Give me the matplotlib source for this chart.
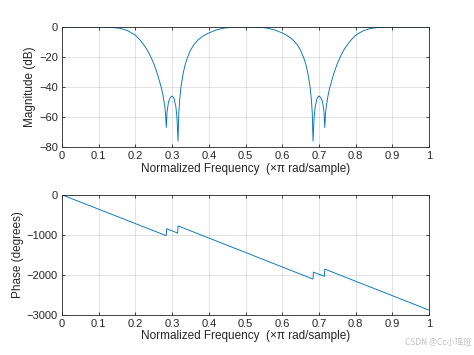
import numpy as np
import matplotlib
matplotlib.use("Agg")
import matplotlib.pyplot as plt

# -----------------------------
# DATA
# -----------------------------
freq_lo = [0.00, 0.05, 0.10, 0.12, 0.14, 0.16, 0.18, 0.20, 0.21, 0.22, 0.23,
           0.24, 0.25, 0.26, 0.27, 0.275, 0.28, 0.282, 0.284, 0.286, 0.29,
           0.295, 0.30, 0.305, 0.31, 0.313, 0.316, 0.318, 0.32, 0.324, 0.33,
           0.335, 0.34, 0.35, 0.36, 0.37, 0.38, 0.39, 0.40, 0.42, 0.44, 0.46,
           0.48, 0.50]
mag_lo = [0, 0, 0, -0.1, -0.4, -1.0, -2.6, -5.5, -8, -11, -14.5,
          -19, -24.5, -31.5, -40, -45.5, -53, -58, -67, -57, -50,
          -47, -46, -47.5, -53, -60, -76, -58, -50, -40, -31,
          -25.5, -21.5, -15.5, -11.5, -8.8, -6.8, -5.2, -4, -2, -0.8, -0.2,
          0, 0]

freq_hi = [0.52, 0.54, 0.56, 0.58, 0.60, 0.61, 0.62, 0.63, 0.64, 0.65, 0.66,
           0.665, 0.67, 0.676, 0.68, 0.682, 0.684, 0.687, 0.69, 0.695, 0.70,
           0.705, 0.71, 0.714, 0.716, 0.718, 0.72, 0.725, 0.73, 0.74, 0.75,
           0.76, 0.77, 0.78, 0.79, 0.80, 0.82, 0.84, 0.86, 0.88, 0.90, 0.95,
           1.00]
mag_hi = [0, -0.2, -0.8, -2, -4, -5.2, -6.8, -8.8, -11.5, -15.5, -21.5,
          -25.5, -31, -40, -50, -58, -76, -60, -53, -47.5, -46,
          -47, -50, -57, -67, -58, -53, -45.5, -40, -31.5, -24.5,
          -19, -14.5, -11, -8, -5.5, -2.6, -1.0, -0.4, -0.1, 0, 0,
          0]

phase_freq = [0.0, 0.284, 0.285, 0.315, 0.316, 0.684, 0.685, 0.715, 0.716, 1.0]
phase_deg = [0, -1020, -845, -955, -775, -2105, -1930, -2035, -1855, -2880]

xticks = np.arange(0, 1.01, 0.1)
xticklabels = ["0", "0.1", "0.2", "0.3", "0.4", "0.5", "0.6", "0.7", "0.8", "0.9", "1"]

# -----------------------------
# STYLE
# -----------------------------
plt.rcParams["font.family"] = ["Liberation Sans", "DejaVu Sans"]
plt.rcParams["font.size"] = 8

LINE_COLOR = (0.0, 0.447, 0.741)
AX_COLOR = (0.15, 0.15, 0.15)

fig = plt.figure(figsize=(4.74, 3.55), dpi=100)
ax1 = fig.add_axes([0.131, 0.586, 0.774, 0.338])
ax2 = fig.add_axes([0.131, 0.113, 0.774, 0.338])


def style_axes(ax):
    ax.set_xlim(0, 1)
    ax.set_xticks(xticks)
    ax.set_xticklabels(xticklabels)
    ax.grid(True, color=(0.15, 0.15, 0.15), alpha=0.15, linewidth=0.6)
    ax.set_axisbelow(True)
    for sp in ax.spines.values():
        sp.set_color(AX_COLOR)
        sp.set_linewidth(0.6)
    ax.tick_params(direction="in", length=2.5, width=0.6, colors=AX_COLOR,
                   top=True, right=True, labelsize=8, pad=3)
    ax.set_xlabel("Normalized Frequency  (\u00d7\u03c0 rad/sample)",
                  fontsize=8.5, color=AX_COLOR, labelpad=1)


# -----------------------------
# MAGNITUDE
# -----------------------------
ax1.plot(freq_lo + freq_hi, mag_lo + mag_hi, color=LINE_COLOR, linewidth=0.65)
style_axes(ax1)
ax1.set_ylim(-80, 0)
ax1.set_yticks([-80, -60, -40, -20, 0])
ax1.set_ylabel("Magnitude (dB)", fontsize=8.5, color=AX_COLOR, labelpad=2)

# -----------------------------
# PHASE
# -----------------------------
ax2.plot(phase_freq, phase_deg, color=LINE_COLOR, linewidth=0.65)
style_axes(ax2)
ax2.set_ylim(-3000, 0)
ax2.set_yticks([-3000, -2000, -1000, 0])
ax2.set_ylabel("Phase (degrees)", fontsize=8.5, color=AX_COLOR, labelpad=2)

# watermark
fig.text(0.995, 0.035, "CSDN @Cc\u5c0f\u7476\u73ed", ha="right", va="center",
         fontsize=6, color=(0.75, 0.75, 0.75),
         family=["Noto Sans CJK SC", "DejaVu Sans"])

fig.savefig("out.png", dpi=100)
